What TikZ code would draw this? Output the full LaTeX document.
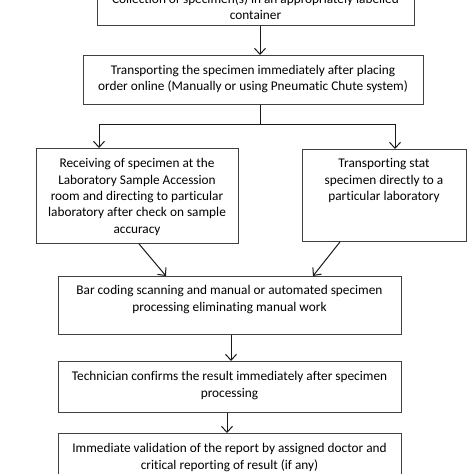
\documentclass[tikz,border=0pt]{standalone}
\usepackage{fontspec}
\setmainfont[Ligatures=NoCommon]{Carlito}
\usetikzlibrary{arrows.meta}
\newcommand{\bxtext}[4]{\parbox[t][#1][t]{#2}{\centering\fontsize{13.3}{16.4}\selectfont\vspace*{#3}#4\par}}
\tikzset{
  box/.style={draw=black!75, line width=0.9pt, inner sep=0pt, anchor=north, text=black},
  arr/.style={draw=black!90, line width=1pt, -{Straight Barb[length=6pt,width=11pt]}},
  ln/.style={draw=black!90, line width=1pt}
}
\begin{document}
\begin{tikzpicture}[x=1pt,y=-1pt]
\useasboundingbox (0,0) rectangle (474,474);
\clip (0,0) rectangle (474,474);
\fill[white] (0,0) rectangle (474,474);
\node[box] (b1) at (255.5,-25) {\bxtext{50pt}{317pt}{18pt}{Collection of specimen(s) in an appropriately labelled\\container}};
\node[box] (b2) at (253,55) {\bxtext{49pt}{340pt}{9.5pt}{Transporting the specimen immediately after placing\\order online (Manually or using Pneumatic Chute system)}};
\node[box] (b3) at (137,148) {\bxtext{95pt}{202pt}{10pt}{Receiving of specimen at the\\Laboratory Sample Accession\\room and directing to particular\\laboratory after check on sample\\accuracy}};
\node[box] (b4) at (384,149) {\bxtext{92pt}{164pt}{9pt}{Transporting stat\\specimen directly to a\\particular laboratory}};
\node[box] (b5) at (229.5,276) {\bxtext{58pt}{343pt}{9pt}{Bar coding scanning and manual or automated specimen\\processing eliminating manual work}};
\node[box] (b6) at (229.5,361) {\bxtext{51pt}{343pt}{10pt}{Technician confirms the result immediately after specimen\\processing}};
\node[box] (b7) at (229.5,433) {\bxtext{60pt}{343pt}{10pt}{Immediate validation of the report by assigned doctor and\\critical reporting of result (if any)}};
\coordinate (split) at (260,124);
\draw[arr] (b1.south -| 260,0) -- (b2.north -| 260,0);
\draw[ln] (b2.south -| split) -- (split);
\draw[arr] (split) -| (b3.north -| 99,0);
\draw[arr] (split) -| (b4.north -| 395,0);
\draw[arr] (b3.south -| 139,0) -- (b5.north -| 166,0);
\draw[arr] (b4.south -| 340,0) -- (b5.north -| 313,0);
\draw[arr] (b5.south -| 231,0) -- (b6.north -| 231,0);
\draw[arr] (b6.south -| 227,0) -- (b7.north -| 227,0);
\end{tikzpicture}
\end{document}
